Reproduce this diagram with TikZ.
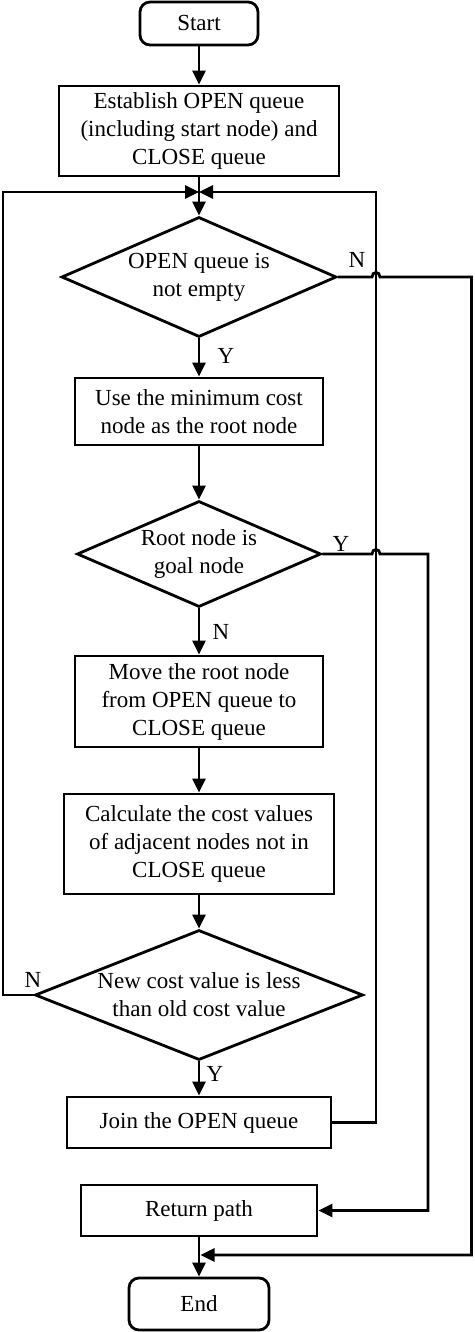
\documentclass[tikz,border=0pt]{standalone}
\usepackage{fontspec}
\setmainfont{Liberation Serif}
\usetikzlibrary{shapes.geometric,arrows.meta}
\begin{document}
\begin{tikzpicture}[x=1pt,y=-1pt,
  line width=2.8pt,
  font=\fontsize{23}{28}\selectfont,
  box/.style={draw, rectangle, inner sep=0pt, align=center},
  term/.style={draw, rectangle, rounded corners=10pt, inner sep=0pt},
  dec/.style={draw, diamond, inner sep=-8pt, align=center},
  arr/.style={-{Triangle[length=14pt,width=13pt]}},
  lab/.style={inner sep=0pt}
]
\useasboundingbox (0,0) rectangle (474,1332);

% nodes
\node[term, minimum width=118pt, minimum height=43pt] (start) at (199,23.5) {Start};
\node[box, minimum width=280pt, minimum height=90pt] (est) at (199,131) {Establish OPEN queue\\(including start node) and\\CLOSE queue};
\node[dec, aspect=2.29, minimum width=275pt, minimum height=120pt] (d1) at (199,277) {OPEN queue is\\not empty};
\node[box, minimum width=248pt, minimum height=67pt] (b2) at (199,411.5) {Use the minimum cost\\node as the root node};
\node[dec, aspect=2.3, minimum width=244pt, minimum height=106pt] (d2) at (199,554) {Root node is\\goal node};
\node[box, minimum width=248pt, minimum height=91pt] (b3) at (199,701.5) {Move the root node\\from OPEN queue to\\CLOSE queue};
\node[box, minimum width=270pt, minimum height=100pt] (b4) at (199,844) {Calculate the cost values\\of adjacent nodes not in\\CLOSE queue};
\node[dec, aspect=2.52, minimum width=328pt, minimum height=130pt] (d3) at (199,995) {New cost value is less\\than old cost value};
\node[box, minimum width=264pt, minimum height=51pt] (join) at (199,1122.5) {Join the OPEN queue};
\node[box, minimum width=236pt, minimum height=51pt] (ret) at (199,1210.5) {Return path};
\node[term, minimum width=140pt, minimum height=52pt] (end) at (199,1304) {End};

% labels
\node[lab] (ln1) at (357,260) {N};
\node[lab] (ly1) at (226,356) {Y};
\node[lab] (ly2) at (341,544) {Y};
\node[lab] (ln2) at (221,632) {N};
\node[lab] (ln3) at (33,980) {N};
\node[lab] (ly3) at (215,1074) {Y};

% helper coordinates
\coordinate (loop) at (199,192);
\coordinate (lx) at (3,192);
\coordinate (rx) at (376,192);
\coordinate (h1a) at (372,277);
\coordinate (h1b) at (380,277);
\coordinate (far) at (471.5,277);
\coordinate (m) at (200.5,1255);
\coordinate (h2a) at (372,554);
\coordinate (h2b) at (380,554);
\coordinate (mid) at (428,554);

% connectors
\draw[arr] (start) -- (est);
\draw (est.south) -- (loop);
\draw[arr] (loop) -- (d1.north);
\draw[arr] (d3.west) -| (lx) -- (loop);
\draw[arr] (join.east) -| (rx) -- (loop);
\draw[arr] (d1.east) -- (h1a) .. controls (372,271) and (380,271) .. (h1b) -- (far) |- (m);
\draw[arr] (d1.south) -- (b2.north);
\draw[arr] (b2.south) -- (d2.north);
\draw[arr] (d2.east) -- (h2a) .. controls (372,548) and (380,548) .. (h2b) -- (mid) |- (ret.east);
\draw[arr] (d2.south) -- (b3.north);
\draw[arr] (b3.south) -- (b4.north);
\draw[arr] (b4.south) -- (d3.north);
\draw[arr] (d3.south) -- (join.north);
\draw[arr] (ret.south) -- (end.north);
\end{tikzpicture}
\end{document}
